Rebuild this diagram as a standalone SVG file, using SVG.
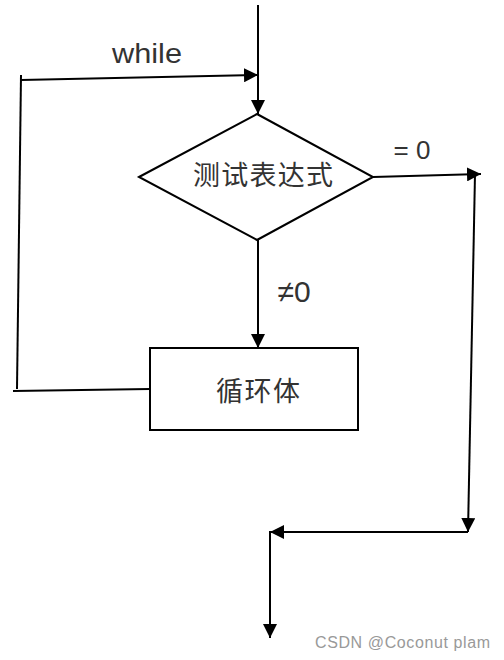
<svg xmlns="http://www.w3.org/2000/svg" width="504" height="660" viewBox="0 0 504 660">
<defs>
<marker id="ah" viewBox="0 0 10 10" refX="10" refY="5" markerWidth="14" markerHeight="14" markerUnits="userSpaceOnUse" orient="auto">
<path d="M0,0 L10,5 L0,10 Z" fill="#000"/>
</marker>
<style>
.ln{fill:none;stroke:#000;stroke-width:2}
.nd{fill:#fff;stroke:#000;stroke-width:2}
.tx{font-family:"Liberation Sans","Noto Sans CJK SC",sans-serif;fill:#333;text-anchor:middle;dominant-baseline:central}
.wm{font-family:"Liberation Sans",sans-serif;fill:#999;font-size:16px}
</style>
</defs>
<rect width="504" height="660" fill="#fff"/>
<g id="connectors">
<path class="ln" d="M258,5 L258,114" marker-end="url(#ah)"/>
<path class="ln" d="M150,389 L13,391"/>
<path class="ln" d="M17,389 L21,75"/>
<path class="ln" d="M21,80 L258,75" marker-end="url(#ah)"/>
<path class="ln" d="M258,240 L258,348" marker-end="url(#ah)"/>
<path class="ln" d="M373,177 L481,174" marker-end="url(#ah)"/>
<path class="ln" d="M475,174 L468,532" marker-end="url(#ah)"/>
<path class="ln" d="M468,532 L270,532" marker-end="url(#ah)"/>
<path class="ln" d="M270,531 L270,638" marker-end="url(#ah)"/>
</g>
<g id="label-while"><text class="tx" x="147" y="54" font-size="27" textLength="70" lengthAdjust="spacingAndGlyphs">while</text></g>
<g id="label-eq0"><text class="tx" x="412" y="150" font-size="26">= 0</text></g>
<g id="label-ne0"><text class="tx" x="294" y="291" font-size="30">≠0</text></g>
<g id="node-test">
<polygon class="nd" points="139,177 257,114 373,177 257,240"/>
<text class="tx" x="263" y="176" font-size="27" textLength="140">测试表达式</text>
</g>
<g id="node-body">
<rect class="nd" x="150" y="348" width="208" height="82"/>
<text class="tx" x="258" y="392" font-size="27" textLength="84">循环体</text>
</g>
<text class="wm" x="315" y="648" textLength="175">CSDN @Coconut plam</text>
</svg>
